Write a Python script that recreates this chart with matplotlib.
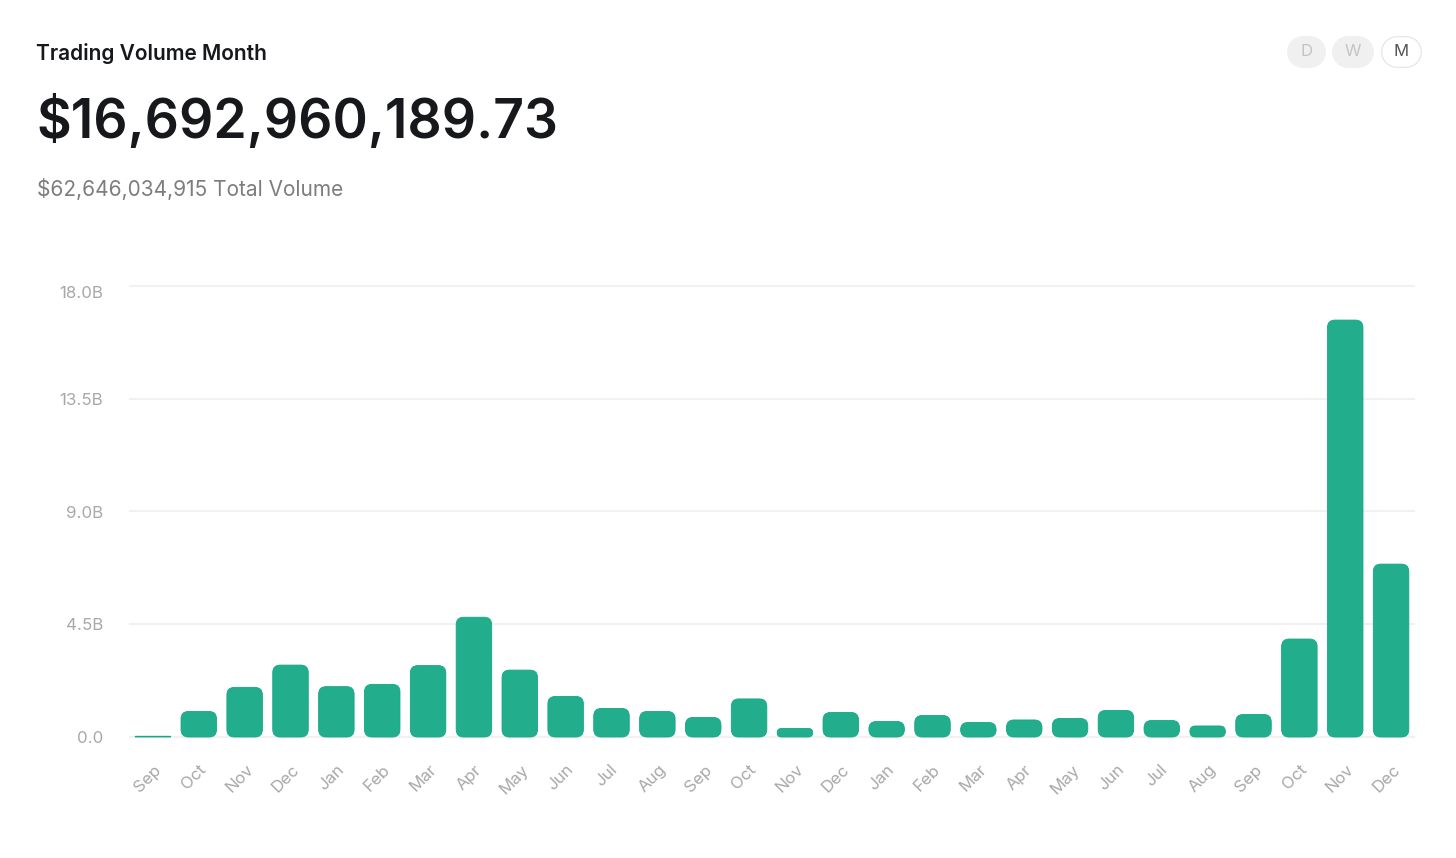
import matplotlib
matplotlib.use('Agg')
import matplotlib.pyplot as plt
from matplotlib.patches import FancyBboxPatch
from matplotlib.transforms import offset_copy

plt.rcParams['font.family'] = ['Inter', 'DejaVu Sans']

months = ['Sep', 'Oct', 'Nov', 'Dec', 'Jan', 'Feb', 'Mar', 'Apr', 'May', 'Jun', 'Jul', 'Aug',
          'Sep', 'Oct', 'Nov', 'Dec', 'Jan', 'Feb', 'Mar', 'Apr', 'May', 'Jun', 'Jul', 'Aug',
          'Sep', 'Oct', 'Nov', 'Dec']
volume = [0.03, 1.02, 1.98, 2.87, 2.01, 2.1, 2.85, 4.78, 2.67, 1.62, 1.14, 1.02,
          0.78, 1.52, 0.34, 0.98, 0.62, 0.86, 0.58, 0.68, 0.74, 1.06, 0.66, 0.44,
          0.9, 3.91, 16.64, 6.9]
y_ticks = [0, 4.5, 9, 13.5, 18]
y_labels = ['0.0', '4.5B', '9.0B', '13.5B', '18.0B']
buttons = ['D', 'W', 'M']

W, H = 1456, 858
GREEN = '#22ae8c'
EDGE = '#12a883'

fig = plt.figure(figsize=(W / 100, H / 100), dpi=100, facecolor='white')

# overlay in pixel coords for the header stuff
bg = fig.add_axes([0, 0, 1, 1])
bg.set_xlim(0, W)
bg.set_ylim(H, 0)
bg.axis('off')

bg.text(36.5, 53.5, 'Trading Volume Month', fontsize=15.05, fontweight='semibold', color='#16181c', va='center')
bg.text(36.5, 122, '$16,692,960,189.73', fontsize=38.5, fontweight='semibold', color='#16181c', va='center')
bg.text(37, 189, '$62,646,034,915 Total Volume', fontsize=15, color='#7d7d7d', va='center')

# D / W / M toggles, thick round-capped lines give real pill ends
btn_x = [1287, 1332, 1381]
btn_w = [39, 42, 41]
px = 72 / 100
for name, x, w in zip(buttons, btn_x, btn_w):
    active = name == 'M'
    xs = [x + 16, x + w - 16]
    bg.plot(xs, [52, 52], lw=32 * px, solid_capstyle='round', color='#e6e6e6' if active else '#f0f0f0')
    if active:
        bg.plot(xs, [52, 52], lw=29.5 * px, solid_capstyle='round', color='white')
    bg.text(x + w / 2, 52, name, fontsize=12, ha='center', va='center',
            color='#555555' if active else '#c4c4c4')

ax = fig.add_axes([130 / W, (H - 737) / H, (1414 - 130) / W, (737 - 286) / H])
ax.patch.set_alpha(0)
ax.set_xlim(-0.5, len(months) - 0.5)
ax.set_ylim(0, 18)
ax.set_axisbelow(True)
ax.grid(axis='y', color='#f1f1f1', lw=1.5, clip_on=False)
for s in ax.spines.values():
    s.set_visible(False)

# rounded bars, aspect converts x units to y units so the corners stay circular
aspect = (18 / 451) / (len(months) / 1284)
bar_w = 35.5 / (1284 / len(months))
radius = 7.5 / (1284 / len(months))
for i, v in enumerate(volume):
    r = min(radius, v / aspect / 2)
    ax.add_patch(FancyBboxPatch((i - bar_w / 2, 0), bar_w, v,
                                boxstyle=f'round,pad=0,rounding_size={r}',
                                mutation_aspect=aspect, fc=GREEN, ec=EDGE, lw=0.6, clip_on=False))

ax.set_yticks(y_ticks)
ax.set_yticklabels(y_labels)
ax.set_xticks(range(len(months)))
ax.set_xticklabels(months, rotation=45, ha='center')
ax.tick_params(axis='y', length=0, pad=19.5, labelsize=12.2, labelcolor='#a8a8a8')
ax.tick_params(axis='x', length=0, pad=18, labelsize=12.2, labelcolor='#a8a8a8')

# labels sit a few px left of the bar centres, top y label sits below its line
for lab in ax.get_xticklabels():
    lab.set_transform(offset_copy(lab.get_transform(), fig=fig, x=-5 * px, y=0, units='points'))
top = ax.get_yticklabels()[-1]
top.set_transform(offset_copy(top.get_transform(), fig=fig, x=0, y=-6 * px, units='points'))

fig.savefig('out.png', dpi=100)
